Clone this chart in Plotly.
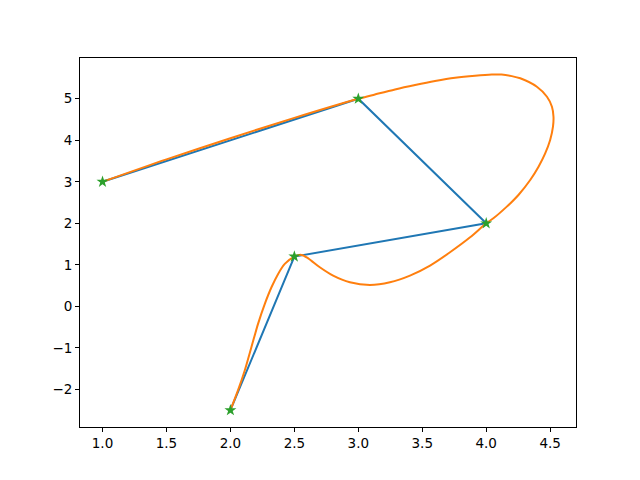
import plotly.graph_objects as go

# control points
pts_x = [1.0, 3.0, 4.0, 2.5, 2.0]
pts_y = [3.0, 5.0, 2.0, 1.2, -2.5]

# smooth curve
curve_x = [1.0, 1.5, 2.0, 2.5, 3.0,
           3.130, 3.287, 3.444, 3.600, 3.757, 3.913, 4.044, 4.120, 4.200, 4.266, 4.396,
           4.475, 4.514, 4.526, 4.522, 4.500, 4.461, 4.409, 4.344, 4.252, 4.161,
           4.056, 4.0,
           3.874, 3.717, 3.561, 3.404, 3.247, 3.091, 2.934, 2.803, 2.699, 2.608,
           2.556, 2.5,
           2.425, 2.373, 2.321, 2.269, 2.216, 2.164, 2.112, 2.059, 2.0]
curve_y = [3.0, 3.54, 4.05, 4.54, 5.0,
           5.103, 5.224, 5.330, 5.426, 5.505, 5.555, 5.583, 5.582, 5.545, 5.492, 5.289,
           5.048, 4.808, 4.567, 4.326, 4.006, 3.684, 3.364, 3.044, 2.683, 2.402,
           2.121, 2.0,
           1.663, 1.303, 0.983, 0.742, 0.581, 0.518, 0.581, 0.742, 0.942, 1.158,
           1.240, 1.2,
           1.024, 0.783, 0.461, 0.061, -0.420, -0.983, -1.543, -2.024, -2.5]

x_ticks = [1.0, 1.5, 2.0, 2.5, 3.0, 3.5, 4.0, 4.5]
x_labels = ["1.0", "1.5", "2.0", "2.5", "3.0", "3.5", "4.0", "4.5"]
y_ticks = [-2, -1, 0, 1, 2, 3, 4, 5]
y_labels = ["\u22122", "\u22121", "0", "1", "2", "3", "4", "5"]

fig = go.Figure()
fig.add_trace(go.Scatter(x=pts_x, y=pts_y, mode="lines",
                         line=dict(color="#1f77b4", width=2)))
fig.add_trace(go.Scatter(x=curve_x, y=curve_y, mode="lines",
                         line=dict(color="#ff7f0e", width=2, shape="spline", smoothing=0.8)))
fig.add_trace(go.Scatter(x=pts_x, y=pts_y, mode="markers",
                         marker=dict(symbol="star", color="#2ca02c", size=9,
                                     line=dict(width=0))))

axis_common = dict(showline=True, linecolor="black", linewidth=1, mirror=True,
                   ticks="outside", ticklen=4, tickcolor="black", showgrid=False,
                   zeroline=False, tickfont=dict(family="DejaVu Sans", size=13.5, color="black"))

fig.update_layout(
    width=640, height=480,
    margin=dict(l=72, r=72, t=50, b=61),
    paper_bgcolor="white", plot_bgcolor="white",
    showlegend=False,
    xaxis=dict(range=[0.824, 4.702], tickvals=x_ticks, ticktext=x_labels, **axis_common),
    yaxis=dict(range=[-2.904, 5.981], tickvals=y_ticks, ticktext=y_labels, **axis_common),
)

fig.write_html("out.html")
